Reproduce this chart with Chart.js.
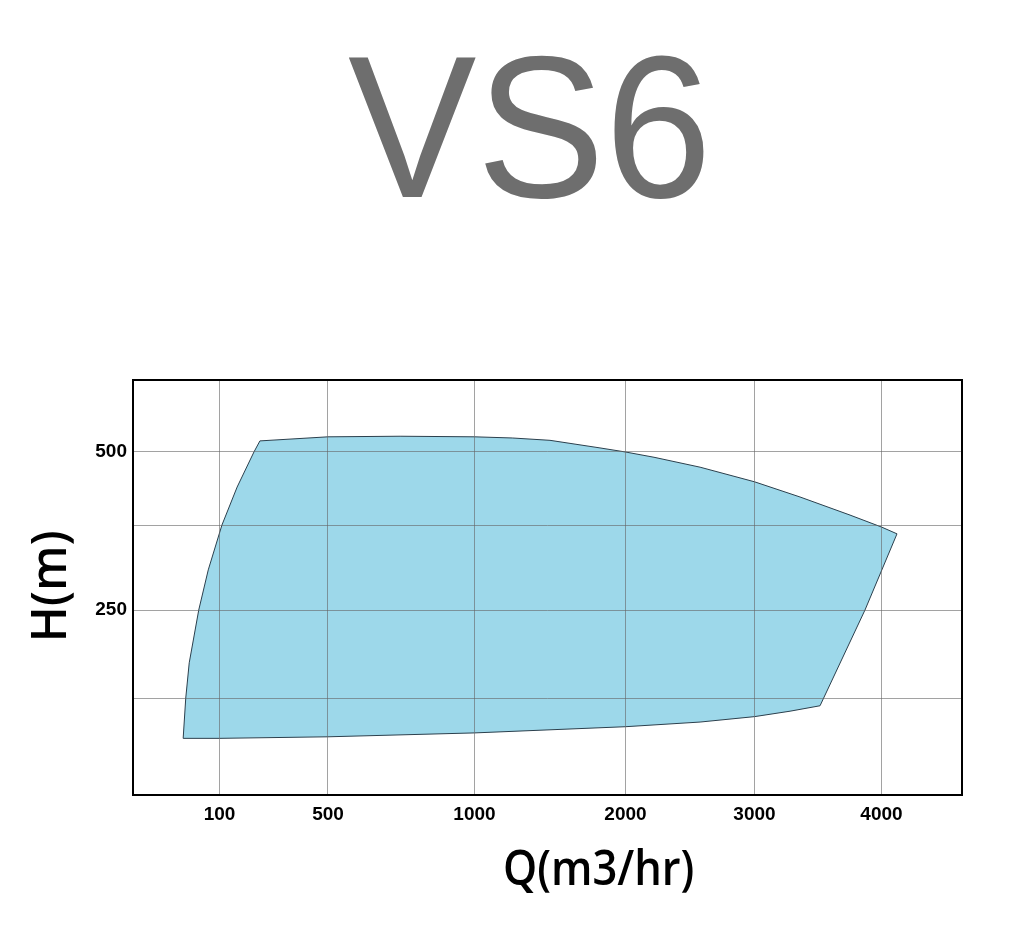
<!DOCTYPE html>
<html>
<head>
<meta charset="utf-8">
<script src="https://cdn.jsdelivr.net/npm/chart.js@4.4.1/dist/chart.umd.min.js"></script>
<style>
  html, body { margin: 0; padding: 0; background: #ffffff; }
  #wrap { position: relative; width: 1024px; height: 934px; }
</style>
</head>
<body>
<div id="wrap"><canvas id="c"></canvas></div>
<script>
// ---- Data ----
const chartTitle = 'VS6';
const xTitle = 'Q(m3/hr)';
const yTitle = 'H(m)';

// Tick values / labels
const qTicks = [100, 500, 1000, 2000, 3000, 4000];
const qTickLabels = ['100', '500', '1000', '2000', '3000', '4000'];
const hTicks = [125, 250, 375, 500];
const hTickLabels = ['', '250', '', '500'];

// Operating envelope (Q in m3/hr, H in m), closed polygon
const envelopeQ = [58, 61, 65, 76, 87, 109, 165, 227, 249, 500, 746, 1000, 1250, 1500, 1831, 2000, 2221, 2578, 3000, 3358, 3752, 4000, 4122, 3870, 3516, 3280, 3000, 2578, 2000, 1000, 500, 100, 58];
const envelopeH = [73, 125, 175, 250, 309, 375, 440, 500, 519, 526, 527, 526, 524, 520, 507, 500, 491, 474, 449, 423, 392, 372, 362, 250, 115, 108, 101, 94, 88, 80, 75, 73, 73];

// ---- Axis layout (non-uniform printed axes: value breakpoints -> fraction of plot) ----
const xBreakValues = [0, 100, 500, 1000, 2000, 3000, 4000];
const xBreakFrac   = [0, 0.10434, 0.23522, 0.41194, 0.59409, 0.74970, 0.90290];
const yBreakValues = [0, 125, 250, 375, 500];
const yBreakFrac   = [0, 0.23373, 0.44578, 0.65060, 0.82651];

const axisMaps = {
  x: { v: xBreakValues, d: xBreakFrac, ticks: qTicks },
  y: { v: yBreakValues, d: yBreakFrac, ticks: hTicks }
};

function interp(val, from, to) {
  const n = from.length;
  let i;
  if (val <= from[0]) i = 0;
  else if (val >= from[n - 1]) i = n - 2;
  else { i = 0; while (val > from[i + 1]) i++; }
  return to[i] + (val - from[i]) * (to[i + 1] - to[i]) / (from[i + 1] - from[i]);
}

class PiecewiseScale extends Chart.LinearScale {
  getPixelForValue(value) {
    const m = axisMaps[this.axis];
    return this.getPixelForDecimal(interp(value, m.v, m.d));
  }
  getValueForPixel(pixel) {
    const m = axisMaps[this.axis];
    return interp(this.getDecimalForPixel(pixel), m.d, m.v);
  }
  buildTicks() {
    const m = axisMaps[this.axis];
    return m.ticks.map(v => ({ value: v }));
  }
}
PiecewiseScale.id = 'piecewise';
PiecewiseScale.defaults = Chart.LinearScale.defaults;
Chart.register(PiecewiseScale);

const points = envelopeQ.map((q, i) => ({ x: q, y: envelopeH[i] }));

// draw text so that its ink box fills the given box (optionally rotated -90deg)
function drawFitted(ctx, text, font, x0, y0, x1, y1, rotated) {
  ctx.save();
  ctx.font = font;
  ctx.textAlign = 'left';
  ctx.textBaseline = 'alphabetic';
  const m = ctx.measureText(text);
  const inkL = -m.actualBoundingBoxLeft, inkR = m.actualBoundingBoxRight;
  const inkT = -m.actualBoundingBoxAscent, inkB = m.actualBoundingBoxDescent;
  if (!rotated) {
    ctx.translate(x0, y0);
    ctx.scale((x1 - x0) / (inkR - inkL), (y1 - y0) / (inkB - inkT));
  } else {
    ctx.translate(x0, y1);
    ctx.rotate(-Math.PI / 2);
    ctx.scale((y1 - y0) / (inkR - inkL), (x1 - x0) / (inkB - inkT));
  }
  ctx.fillText(text, -inkL, -inkT);
  ctx.restore();
}

const textPlugin = {
  id: 'textPlugin',
  afterDraw(chart) {
    const ctx = chart.ctx;
    const a = chart.chartArea;
    ctx.save();
    // plot frame
    ctx.strokeStyle = '#000000';
    ctx.lineWidth = 2;
    ctx.strokeRect(a.left, a.top, a.right - a.left, a.bottom - a.top);

    // big title
    ctx.fillStyle = '#6e6e6e';
    drawFitted(ctx, chartTitle, '200px "Liberation Sans", Arial, sans-serif', 348, 55, 704, 199.5, false);

    // axis titles
    ctx.fillStyle = '#000000';
    drawFitted(ctx, xTitle, '600 42px "Open Sans", "Noto Sans", sans-serif', 505, 849, 693, 893, false);
    drawFitted(ctx, yTitle, '600 46px "Open Sans", "Noto Sans", sans-serif', 32, 532, 75, 638, true);
    ctx.restore();
  }
};

new Chart(document.getElementById('c'), {
  type: 'scatter',
  data: {
    datasets: [{
      data: points,
      showLine: true,
      fill: 'shape',
      backgroundColor: '#9dd8ea',
      borderColor: '#2b3f4c',
      borderWidth: 1,
      pointRadius: 0,
      pointHoverRadius: 0,
      tension: 0
    }]
  },
  options: {
    responsive: true,
    maintainAspectRatio: false,
    animation: false,
    layout: { padding: { top: 380, right: 62, bottom: 0, left: 0 } },
    plugins: {
      legend: { display: false },
      tooltip: { enabled: false },
      title: { display: false }
    },
    scales: {
      x: {
        type: 'piecewise',
        axis: 'x',
        position: 'bottom',
        border: { display: false },
        grid: { color: 'rgba(100,100,100,0.6)', lineWidth: 1, drawTicks: false, z: 1 },
        ticks: {
          autoSkip: false,
          maxRotation: 0,
          padding: 8,
          color: '#000000',
          font: { family: '"Liberation Sans", Arial, sans-serif', size: 19, weight: 'bold' },
          callback: (v, i) => qTickLabels[i]
        },
        afterFit: (s) => { s.height = 139; }
      },
      y: {
        type: 'piecewise',
        axis: 'y',
        position: 'left',
        border: { display: false },
        grid: { color: 'rgba(100,100,100,0.6)', lineWidth: 1, drawTicks: false, z: 1 },
        ticks: {
          autoSkip: false,
          padding: 6,
          color: '#000000',
          font: { family: '"Liberation Sans", Arial, sans-serif', size: 19, weight: 'bold' },
          callback: (v, i) => hTickLabels[i]
        },
        afterFit: (s) => { s.width = 133; }
      }
    }
  },
  plugins: [textPlugin]
});
</script>
</body>
</html>
